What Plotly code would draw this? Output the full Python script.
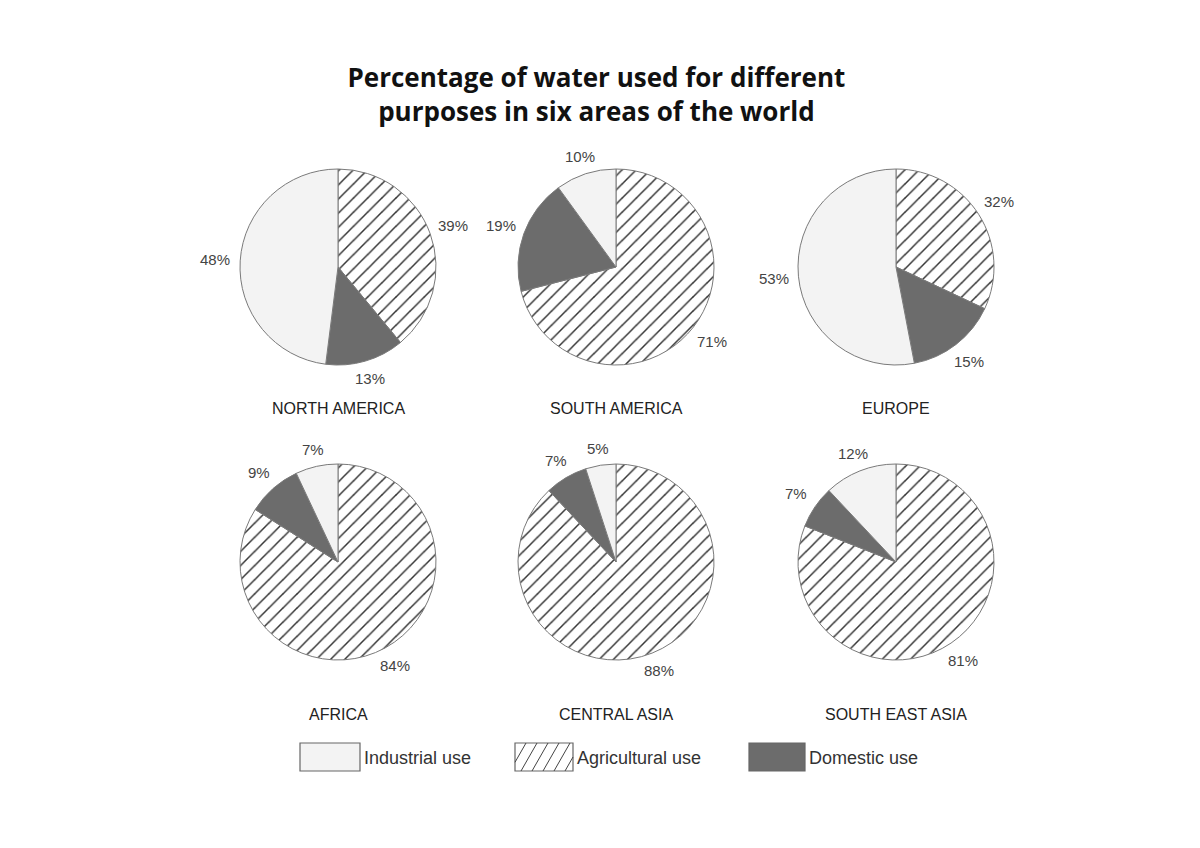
import math
import plotly.graph_objects as go

# ---- data ----
regions = ["NORTH AMERICA", "SOUTH AMERICA", "EUROPE",
           "AFRICA", "CENTRAL ASIA", "SOUTH EAST ASIA"]
uses = ["Agricultural use", "Domestic use", "Industrial use"]
agricultural = [39, 71, 32, 84, 88, 81]
domestic = [13, 19, 15, 9, 7, 7]
industrial = [48, 10, 53, 7, 5, 12]
legend_order = ["Industrial use", "Agricultural use", "Domestic use"]

W, H = 1200, 848
def fx(p): return p / W
def fy(p): return 1 - p / H

# layout (pixel) for pies
centers_x = [338, 616, 896]
centers_y = [267, 562]
R = 98
label_y = [408, 714]

fill = {"Agricultural use": "white", "Domestic use": "#6c6c6c", "Industrial use": "#f3f3f3"}
pattern_shape = {"Agricultural use": "/", "Domestic use": "", "Industrial use": ""}
label_font = dict(family="Liberation Sans, Arial", size=15, color="#444444")

fig = go.Figure()
for i, reg in enumerate(regions):
    row, col = divmod(i, 3)
    cx, cy = centers_x[col], centers_y[row]
    vals = [agricultural[i], domestic[i], industrial[i]]
    fig.add_trace(go.Pie(
        labels=uses, values=vals, name=reg,
        sort=False, direction="clockwise", rotation=0,
        domain=dict(x=[fx(cx - R), fx(cx + R)], y=[fy(cy + R), fy(cy - R)]),
        marker=dict(colors=[fill[u] for u in uses],
                    line=dict(color="#7a7a7a", width=1),
                    pattern=dict(shape=[pattern_shape[u] for u in uses],
                                 fgcolor="#333333", bgcolor="white",
                                 size=10, solidity=0.15)),
        textinfo="none",
        showlegend=False, hoverinfo="label+value",
    ))
    # percentage labels outside each slice, at the slice's mid-angle
    total = sum(vals)
    cum = 0
    for v in vals:
        mid = (cum + v / 2) / total * 2 * math.pi
        cum += v
        s, c = math.sin(mid), math.cos(mid)
        d = R + 15 + 10 * abs(s)
        fig.add_annotation(x=fx(cx + d * s), y=fy(cy - d * c), xref="paper", yref="paper",
                           text=f"{v}%", showarrow=False, xanchor="center", yanchor="middle",
                           font=label_font)
    fig.add_annotation(x=fx(cx), y=fy(label_y[row]), xref="paper", yref="paper",
                       text=reg, showarrow=False, xanchor="center", yanchor="middle",
                       font=dict(family="Liberation Sans, Arial", size=16, color="#222222"))

# ---- custom legend ----
shapes = []
box_y0, box_y1 = 743, 771
legend_boxes = {"Industrial use": (300, 360), "Agricultural use": (515, 573), "Domestic use": (749, 805)}
for name in legend_order:
    x0, x1 = legend_boxes[name]
    fc = "white" if name == "Agricultural use" else fill[name]
    shapes.append(dict(type="rect", xref="paper", yref="paper",
                       x0=fx(x0), x1=fx(x1), y0=fy(box_y1), y1=fy(box_y0),
                       fillcolor=fc, line=dict(color="#666666", width=1.2)))
    if name == "Agricultural use":
        h = box_y1 - box_y0
        slope_dx = 16
        step = 11
        xb = x0 - slope_dx
        while xb < x1:
            bx, by = xb, box_y1
            tx, ty = xb + slope_dx, box_y0
            if bx < x0:
                t = (x0 - bx) / (tx - bx)
                bx, by = x0, box_y1 - t * h
            if tx > x1:
                t = (x1 - xb) / slope_dx
                tx, ty = x1, box_y1 - t * h
            if tx > bx:
                shapes.append(dict(type="line", xref="paper", yref="paper",
                                   x0=fx(bx), y0=fy(by), x1=fx(tx), y1=fy(ty),
                                   line=dict(color="#444444", width=1)))
            xb += step
    fig.add_annotation(x=fx(x1 + 2), y=fy((box_y0 + box_y1) / 2 + 1), xref="paper", yref="paper",
                       text=name, showarrow=False, xanchor="left", yanchor="middle",
                       font=dict(family="Liberation Sans, Arial", size=18, color="#333333"))

fig.update_layout(
    width=W, height=H,
    margin=dict(l=0, r=0, t=0, b=0),
    paper_bgcolor="white", plot_bgcolor="white",
    shapes=shapes,
    title=dict(text="<b>Percentage of water used for different<br>purposes in six areas of the world</b>",
               x=0.497, xanchor="center", y=fy(87), yanchor="middle",
               font=dict(family="Open Sans", size=26, color="#111111")),
)

fig.write_html("out.html")
